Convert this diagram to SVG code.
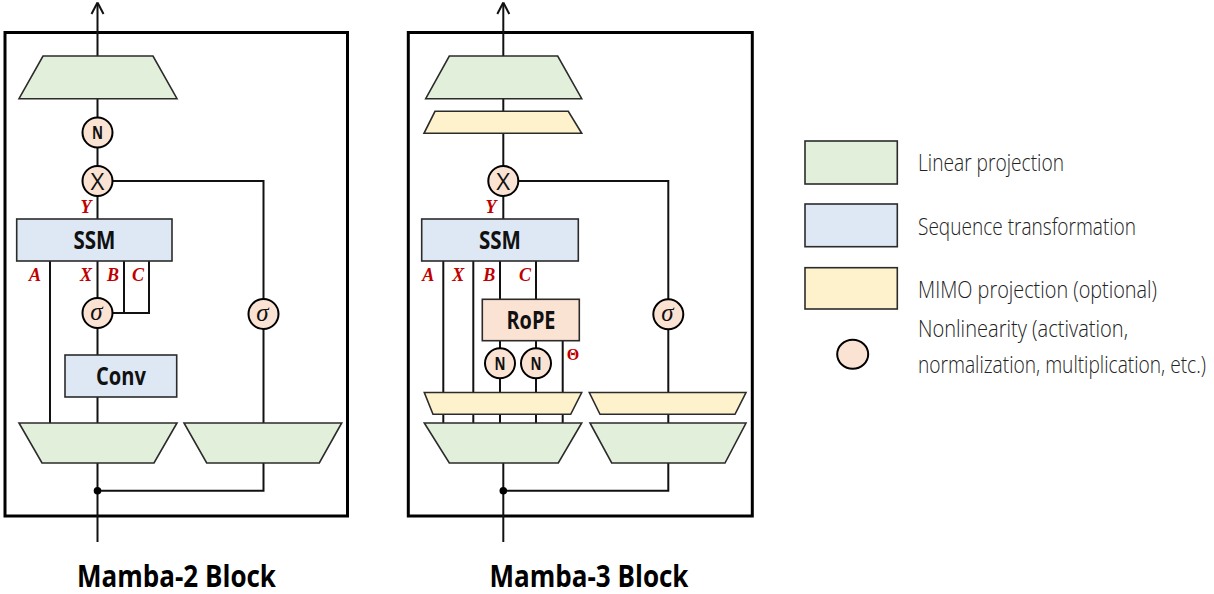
<svg xmlns="http://www.w3.org/2000/svg" width="1214" height="594" viewBox="0 0 1214 594">
<style>
.frame{fill:none;stroke:#000;stroke-width:3}
.ln{fill:none;stroke:#111;stroke-width:2}
.lin{fill:#e2efda;stroke:#2b2b2b;stroke-width:1.6}
.seq{fill:#dde8f4;stroke:#2b2b2b;stroke-width:1.6}
.mimo{fill:#fef2cd;stroke:#2b2b2b;stroke-width:1.6}
.nl{fill:#fbe3d4;stroke:#000;stroke-width:2}
.box{font-family:"Open Sans","Liberation Sans",sans-serif;font-weight:700;font-size:25px;fill:#111;text-anchor:middle}
.ct{font-family:"Open Sans","Liberation Sans",sans-serif;font-weight:700;font-size:17px;fill:#111;text-anchor:middle}
.xt{font-family:"Open Sans","Liberation Sans",sans-serif;font-weight:400;font-size:24px;fill:#111;text-anchor:middle}
.sg{font-family:"Liberation Serif",serif;font-style:italic;font-size:25px;fill:#111;text-anchor:middle}
.var{font-family:"Liberation Serif",serif;font-style:italic;font-weight:700;font-size:18px;fill:#c00000;text-anchor:middle}
.th{font-family:"Liberation Serif",serif;font-weight:700;font-size:16px;fill:#c00000;text-anchor:middle}
.title{font-family:"Open Sans","Liberation Sans",sans-serif;font-weight:700;font-size:31px;fill:#000;text-anchor:middle}
.leg{font-family:"Open Sans","Liberation Sans",sans-serif;font-weight:300;font-size:24px;fill:#222}
</style>

<!-- ================= Mamba-2 ================= -->
<g id="mamba2">
<rect id="m2-frame" class="frame" x="5" y="32.5" width="342.5" height="483.5"/>
<g id="m2-connectors">
<line class="ln" x1="97.5" y1="56" x2="97.5" y2="3"/>
<line class="ln" x1="91.5" y1="14" x2="97.5" y2="2.5"/>
<line class="ln" x1="103.5" y1="14" x2="97.5" y2="2.5"/>
<line class="ln" x1="97.5" y1="99" x2="97.5" y2="117"/>
<line class="ln" x1="97.5" y1="148" x2="97.5" y2="166"/>
<line class="ln" x1="97.5" y1="196" x2="97.5" y2="219"/>
<polyline class="ln" points="112.5,181 263.5,181 263.5,299"/>
<line class="ln" x1="263.5" y1="329" x2="263.5" y2="423"/>
<line class="ln" x1="50" y1="261" x2="50" y2="423"/>
<line class="ln" x1="97.5" y1="261" x2="97.5" y2="298"/>
<polyline class="ln" points="124,261 124,313 112.5,313"/>
<polyline class="ln" points="149,261 149,313 124,313"/>
<line class="ln" x1="97.5" y1="328" x2="97.5" y2="355"/>
<line class="ln" x1="97.5" y1="397" x2="97.5" y2="423"/>
<line class="ln" x1="97.5" y1="463" x2="97.5" y2="542"/>
<polyline class="ln" points="97.5,490.7 263.5,490.7 263.5,463"/>
<circle cx="97.5" cy="490.7" r="3.8" fill="#000"/>
</g>
<g id="m2-outproj"><polygon class="lin" points="43,56 153,56 177,98.7 19,98.7"/></g>
<g id="m2-norm"><circle class="nl" cx="97.5" cy="132.5" r="15"/><text class="ct" x="97.5" y="138.8" textLength="11" lengthAdjust="spacingAndGlyphs">N</text></g>
<g id="m2-mult"><circle class="nl" cx="97.5" cy="181" r="15"/><text class="xt" x="97.5" y="189.5">X</text></g>
<text class="var" x="86" y="213">Y</text>
<g id="m2-ssm"><rect class="seq" x="16.7" y="219" width="155.3" height="42"/><text class="box" x="94.5" y="249" textLength="42" lengthAdjust="spacingAndGlyphs">SSM</text></g>
<text class="var" x="35" y="281">A</text>
<text class="var" x="86" y="281">X</text>
<text class="var" x="113" y="281">B</text>
<text class="var" x="138" y="281">C</text>
<g id="m2-act1"><circle class="nl" cx="97.5" cy="313" r="15"/><text class="sg" x="96.5" y="320">σ</text></g>
<g id="m2-act2"><circle class="nl" cx="263.5" cy="314" r="15"/><text class="sg" x="262.5" y="321">σ</text></g>
<g id="m2-conv"><rect class="seq" x="65" y="355" width="111.7" height="42"/><text class="box" x="121" y="385" textLength="50" lengthAdjust="spacingAndGlyphs">Conv</text></g>
<g id="m2-inproj-l"><polygon class="lin" points="19,423 177,423 154,463 42,463"/></g>
<g id="m2-inproj-r"><polygon class="lin" points="184,423 341.7,423 319.3,463 206.7,463"/></g>
<text class="title" x="176.5" y="587" textLength="199" lengthAdjust="spacingAndGlyphs">Mamba-2 Block</text>
</g>

<!-- ================= Mamba-3 ================= -->
<g id="mamba3">
<rect id="m3-frame" class="frame" x="408.3" y="32.5" width="344" height="483.5"/>
<g id="m3-connectors">
<line class="ln" x1="503.3" y1="56" x2="503.3" y2="3"/>
<line class="ln" x1="497.3" y1="14" x2="503.3" y2="2.5"/>
<line class="ln" x1="509.3" y1="14" x2="503.3" y2="2.5"/>
<line class="ln" x1="503.3" y1="99" x2="503.3" y2="111"/>
<line class="ln" x1="503.3" y1="133.5" x2="503.3" y2="166"/>
<line class="ln" x1="503.3" y1="196" x2="503.3" y2="219"/>
<polyline class="ln" points="518.3,181 668.3,181 668.3,299"/>
<line class="ln" x1="668.3" y1="329" x2="668.3" y2="392.5"/>
<line class="ln" x1="668.3" y1="414.3" x2="668.3" y2="423"/>
<line class="ln" x1="443.3" y1="261" x2="443.3" y2="392.5"/>
<line class="ln" x1="473.3" y1="261" x2="473.3" y2="392.5"/>
<line class="ln" x1="500" y1="261" x2="500" y2="299.3"/>
<line class="ln" x1="536" y1="261" x2="536" y2="299.3"/>
<line class="ln" x1="500" y1="340.7" x2="500" y2="348"/>
<line class="ln" x1="536" y1="340.7" x2="536" y2="348"/>
<line class="ln" x1="500" y1="378.5" x2="500" y2="392.5"/>
<line class="ln" x1="536" y1="378.5" x2="536" y2="392.5"/>
<line class="ln" x1="562.7" y1="340.7" x2="562.7" y2="392.5"/>
<line class="ln" x1="443.3" y1="414.3" x2="443.3" y2="423"/>
<line class="ln" x1="473.3" y1="414.3" x2="473.3" y2="423"/>
<line class="ln" x1="500" y1="414.3" x2="500" y2="423"/>
<line class="ln" x1="536" y1="414.3" x2="536" y2="423"/>
<line class="ln" x1="562.7" y1="414.3" x2="562.7" y2="423"/>
<line class="ln" x1="503.3" y1="463" x2="503.3" y2="542"/>
<polyline class="ln" points="503.3,490.7 668.3,490.7 668.3,463"/>
<circle cx="503.3" cy="490.7" r="3.8" fill="#000"/>
</g>
<g id="m3-outproj"><polygon class="lin" points="449.3,56 557.7,56 581.7,98.7 425.7,98.7"/></g>
<g id="m3-outmimo"><polygon class="mimo" points="435,111.3 568.3,111.3 581.7,133.3 424,133.3"/></g>
<g id="m3-mult"><circle class="nl" cx="503.3" cy="181" r="15"/><text class="xt" x="503.3" y="189.5">X</text></g>
<text class="var" x="491" y="213">Y</text>
<g id="m3-ssm"><rect class="seq" x="421.7" y="219" width="156.6" height="42"/><text class="box" x="500" y="249" textLength="42" lengthAdjust="spacingAndGlyphs">SSM</text></g>
<text class="var" x="428.3" y="281">A</text>
<text class="var" x="458.3" y="281">X</text>
<text class="var" x="489.3" y="281">B</text>
<text class="var" x="525" y="281">C</text>
<g id="m3-rope"><rect fill="#fbe3d4" stroke="#2b2b2b" stroke-width="1.6" x="482.3" y="299.3" width="97" height="41.4"/><text class="box" x="531" y="329" textLength="49" lengthAdjust="spacingAndGlyphs">RoPE</text></g>
<g id="m3-normB"><circle class="nl" cx="500" cy="363.3" r="15"/><text class="ct" x="500" y="369.5" textLength="11" lengthAdjust="spacingAndGlyphs">N</text></g>
<g id="m3-normC"><circle class="nl" cx="536" cy="363.3" r="15"/><text class="ct" x="536" y="369.5" textLength="11" lengthAdjust="spacingAndGlyphs">N</text></g>
<text class="th" x="573" y="360">Θ</text>
<g id="m3-act"><circle class="nl" cx="668.3" cy="314.3" r="15"/><text class="sg" x="667.3" y="321.3">σ</text></g>
<g id="m3-mimo-l"><polygon class="mimo" points="424.3,392.5 581.7,392.5 570.7,414.3 433,414.3"/></g>
<g id="m3-mimo-r"><polygon class="mimo" points="589.3,392.5 746,392.5 735,414.3 600,414.3"/></g>
<g id="m3-inproj-l"><polygon class="lin" points="424.3,423 581.7,423 558.3,463 449.3,463"/></g>
<g id="m3-inproj-r"><polygon class="lin" points="590,423 746,423 725,463 611.7,463"/></g>
<text class="title" x="589" y="587" textLength="199" lengthAdjust="spacingAndGlyphs">Mamba-3 Block</text>
</g>

<!-- ================= Legend ================= -->
<g id="legend">
<g id="leg-linear"><rect class="lin" x="805" y="141" width="92.3" height="43"/><text class="leg" x="918" y="171" textLength="146" lengthAdjust="spacingAndGlyphs">Linear projection</text></g>
<g id="leg-seq"><rect class="seq" x="805" y="204" width="92.3" height="42.7"/><text class="leg" x="918" y="234.5" textLength="218" lengthAdjust="spacingAndGlyphs">Sequence transformation</text></g>
<g id="leg-mimo"><rect class="mimo" x="805" y="267.7" width="92.3" height="41.3"/><text class="leg" x="918" y="298" textLength="239" lengthAdjust="spacingAndGlyphs">MIMO projection (optional)</text></g>
<g id="leg-nl"><ellipse class="nl" cx="852.7" cy="354.3" rx="15.5" ry="14.5"/><text class="leg" x="918" y="336.5" textLength="210" lengthAdjust="spacingAndGlyphs">Nonlinearity (activation,</text><text class="leg" x="918" y="373" textLength="288" lengthAdjust="spacingAndGlyphs">normalization, multiplication, etc.)</text></g>
</g>
</svg>
